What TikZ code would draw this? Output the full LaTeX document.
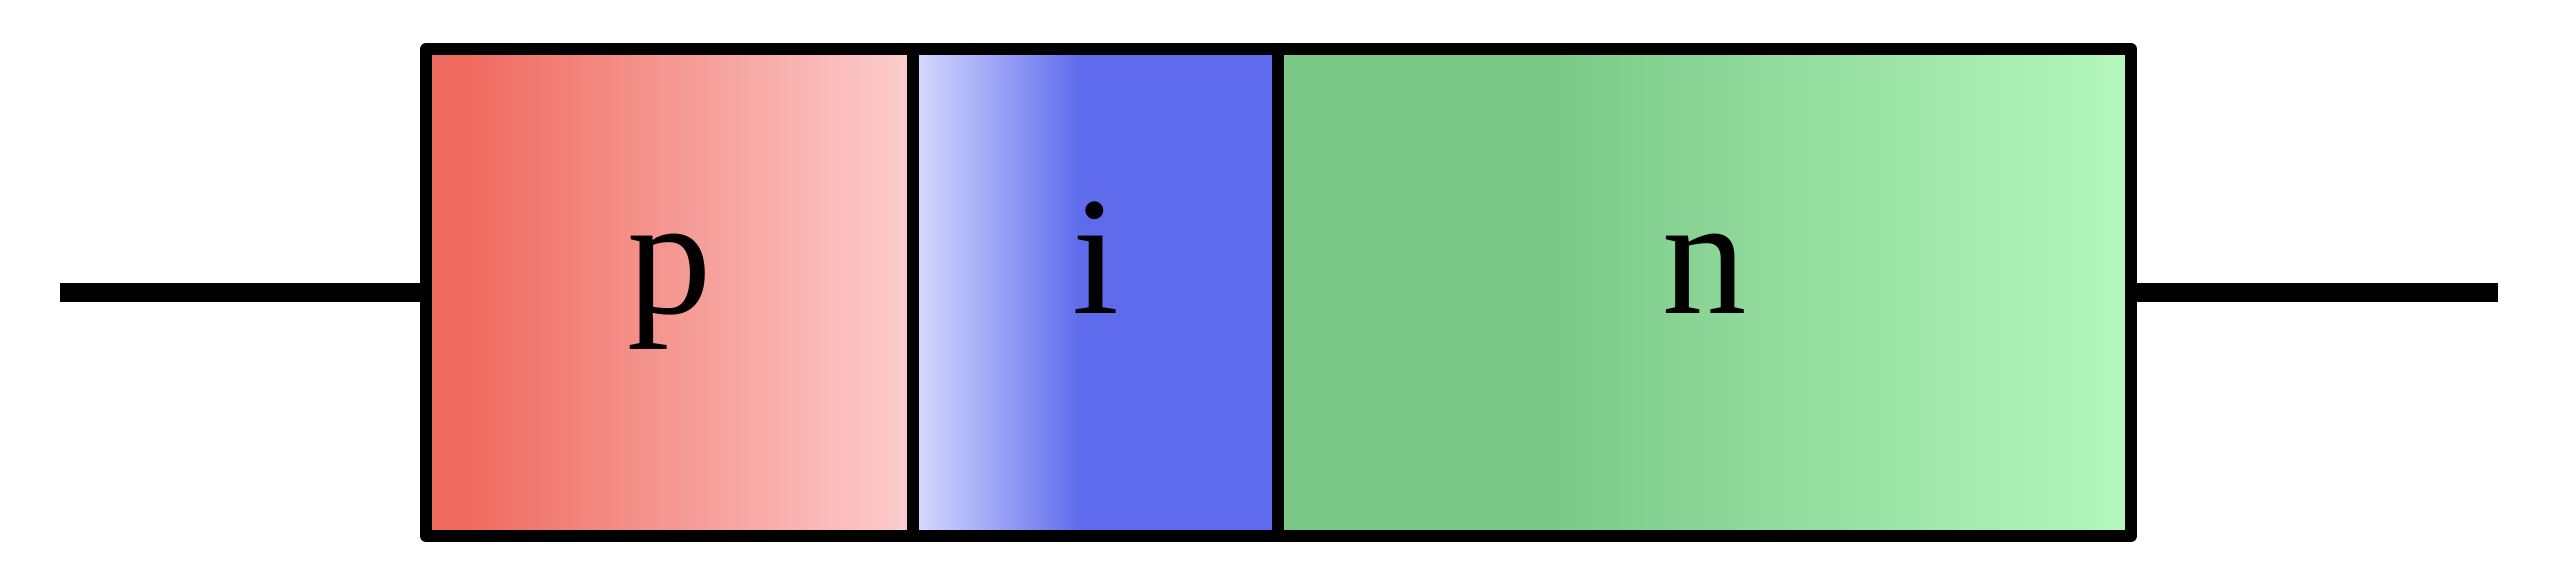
\documentclass[tikz,border=0pt]{standalone}
\usepackage{fontspec}
\setmainfont{Liberation Serif}
\usetikzlibrary{positioning}

\definecolor{pleft}{RGB}{239,106,94}
\definecolor{pright}{RGB}{252,206,207}
\definecolor{ileft}{RGB}{216,220,255}
\definecolor{iright}{RGB}{94,107,236}
\definecolor{nleft}{RGB}{123,201,135}
\definecolor{nright}{RGB}{181,247,189}

\pgfdeclarehorizontalshading{pshade}{100bp}{color(0bp)=(pleft); color(25bp)=(pleft);
   color(29bp)=(pleft); color(75bp)=(pright); color(100bp)=(pright)}
\pgfdeclarehorizontalshading{ishade}{100bp}{color(0bp)=(ileft); color(25bp)=(ileft);
   color(48bp)=(iright); color(75bp)=(iright); color(100bp)=(iright)}
\pgfdeclarehorizontalshading{nshade}{100bp}{color(0bp)=(nleft); color(25bp)=(nleft);
   color(41bp)=(nleft); color(75bp)=(nright); color(100bp)=(nright)}

\tikzset{
   layer/.style={draw=black, line width=3.4pt, line join=round, inner sep=0pt, outer sep=0pt,
     minimum height=4.87cm, text height=0.41cm, text depth=0cm,
     font=\fontsize{48}{58}\selectfont},
   lead/.style={draw=black, line width=5.2pt}
}

\begin{document}
\begin{tikzpicture}
            \useasboundingbox (0,0) rectangle (25.6,5.85);
            \node[layer, shading=pshade, minimum width=4.87cm] (p) at (6.695,2.925) {p};
            \node[layer, shading=ishade, minimum width=3.65cm, right=0cm of p] (i) {i};
            \node[layer, shading=nshade, minimum width=8.53cm, right=0cm of i] (n) {n};
            \coordinate (anode) at (0.60,2.925);
            \coordinate (knode) at (24.98,2.925);
            \draw[lead] (anode) -- (p.west);
            \draw[lead] (n.east) -- (knode);
          \end{tikzpicture}
\end{document}
